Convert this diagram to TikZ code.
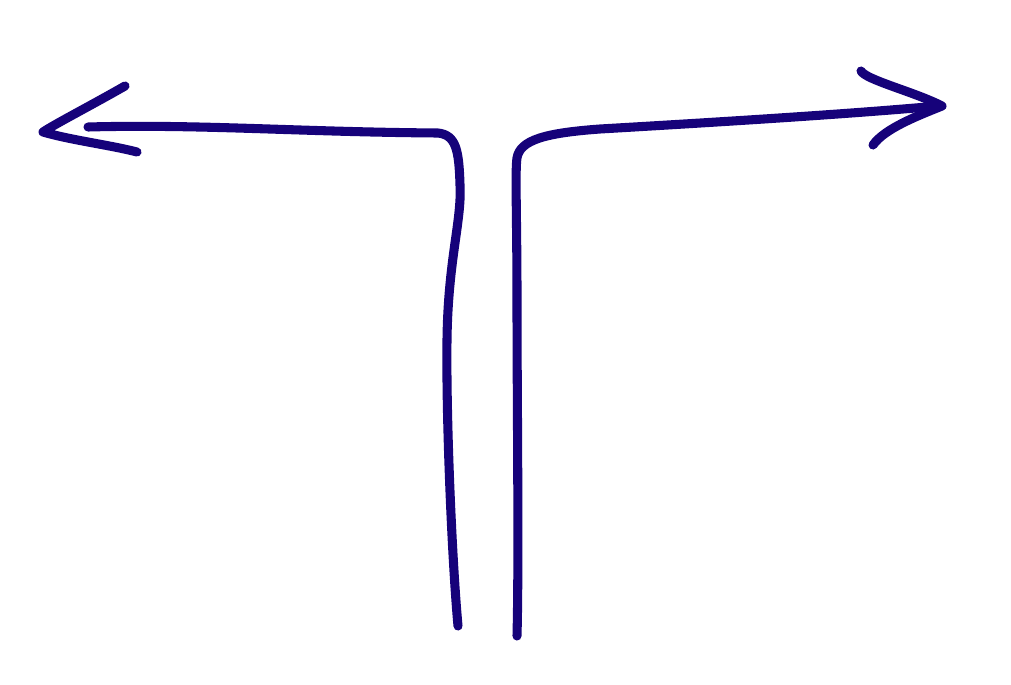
\documentclass[tikz,border=0pt]{standalone}
\definecolor{ink}{RGB}{22,2,122}
\begin{document}
\begin{tikzpicture}[x=0.75pt,y=-0.75pt,
  pen/.style={draw=ink,line width=6.8pt,line cap=round,line join=round}]
\useasboundingbox (0,0) rectangle (1011,685);
% left branch
\coordinate (lstart) at (458,626);
\coordinate (lcorner) at (438,133);
\coordinate (lend) at (88,127);
\draw[pen] (lstart) .. controls (452,560) and (446,420) .. (447,340)
  .. controls (448,260) and (462,220) .. (460,185)
  .. controls (459,150) and (456,135) .. (lcorner)
  .. controls (300,132) and (200,124) .. (lend);
% left arrowhead
\coordinate (ltop) at (125,86);
\coordinate (ltip) at (43,132);
\coordinate (lbot) at (137,152);
\draw[pen] (ltop) .. controls (90,106) and (55,124) .. (ltip)
  .. controls (70,140) and (110,145) .. (lbot);
% right branch
\coordinate (rstart) at (517,636);
\coordinate (rend) at (938,106);
\draw[pen] (rstart) .. controls (519,560) and (517,400) .. (517,300)
  .. controls (517,220) and (515,170) .. (517,158)
  .. controls (520,140) and (545,133) .. (600,129)
  .. controls (720,122) and (850,114) .. (rend);
% right arrowhead
\coordinate (rtop) at (861,71);
\coordinate (rtip) at (942,106);
\coordinate (rbot) at (873,145);
\draw[pen] (rtop) .. controls (866,80) and (915,92) .. (rtip)
  .. controls (920,115) and (885,128) .. (rbot);
\end{tikzpicture}
\end{document}
